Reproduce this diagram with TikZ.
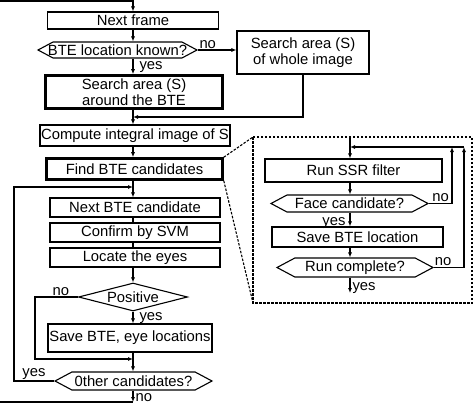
\documentclass[tikz,border=0pt]{standalone}
\usepackage{fontspec}
\setmainfont{Liberation Sans}
\usetikzlibrary{arrows.meta,shapes.geometric,shapes.symbols}

\tikzset{
  box/.style={draw, rectangle, inner sep=0pt, align=center},
  boldbox/.style={box, line width=2.6pt},
  hexa/.style={draw, signal, signal to=west and east, signal pointer angle=56, inner sep=0pt},
  zoomline/.style={dash pattern=on 2.5pt off 1.5pt},
  lbl/.style={inner sep=1pt}
}

\begin{document}
\begin{tikzpicture}[x=1pt, y=-1pt, line width=1.1pt, >={Latex[length=5pt,width=4pt]},
    font=\fontsize{14.8}{15.5}\selectfont]
  \useasboundingbox (0,0) rectangle (474,410);
  % main column
  \node (frame) [box, minimum width=171pt, minimum height=17pt] at (133,20.5) {Next frame};
  \node (known) [hexa, minimum width=159pt, minimum height=16pt] at (117.5,50) {\makebox[0pt]{BTE location known?}};
  \node (whole) [box, minimum width=132pt, minimum height=43pt] at (303,52.5) {Search area (S)\\of whole image};
  \node (around) [boldbox, minimum width=177pt, minimum height=33pt] at (134,92) {Search area (S)\\around the BTE};
  \node (integral) [box, minimum width=190pt, minimum height=21pt] at (135,135.5) {Compute integral image of S};
  \node (find) [boldbox, minimum width=176pt, minimum height=21pt] at (134.5,169) {Find BTE candidates};
  \node (next) [box, minimum width=170pt, minimum height=19pt] at (135,207.5) {Next BTE candidate};
  \node (svm) [box, minimum width=170pt, minimum height=19pt] at (135,232.5) {Confirm by SVM};
  \node (eyes) [box, minimum width=170pt, minimum height=19pt] at (135,257.5) {Locate the eyes};
  \node (positive) [draw, diamond, aspect=3.9, inner sep=0pt, minimum width=109pt, minimum height=28pt] at (133,297) {Positive};
  \node (save) [box, minimum width=164pt, minimum height=28pt] at (130,338) {Save BTE, eye locations};
  \node (other) [hexa, minimum width=157pt, minimum height=18pt] at (133.5,381) {\makebox[0pt]{0ther candidates?}};

  \coordinate (entry) at (0,1);
  \coordinate (merge1) at (133,117);
  \coordinate (merge2) at (133,359);
  \coordinate (merge3) at (133,187);
  \coordinate (noleft) at (35,359);
  \coordinate (yesleft) at (14,187);
  \coordinate (exit) at (133,402);
  \coordinate (back) at (0,402);

  \draw[->] (entry) -| (frame.north);
  \draw[->] (frame.south) -- (frame.south |- known.north);
  \draw[->] (known.east) -- (known.east -| whole.west) node (noknown) [lbl, pos=0.25, above] {no};
  \draw[->] (known.south -| frame.south) -- (frame.south |- around.north) node (yesknown) [lbl, pos=0.55, right=5pt] {yes};
  \draw[->] (whole.south) |- (merge1);
  \draw[->] (frame.south |- around.south) -- (frame.south |- integral.north);
  \draw[->] (frame.south |- integral.south) -- (frame.south |- find.north);
  \draw[->] (frame.south |- find.south) -- (frame.south |- next.north);
  \draw (frame.south |- next.south) -- (frame.south |- svm.north);
  \draw (frame.south |- svm.south) -- (frame.south |- eyes.north);
  \draw[->] (frame.south |- eyes.south) -- (positive.north);
  \draw[->] (positive.west) -| (noleft) node (nopos) [lbl, pos=0.2, above] {no} -- (merge2);
  \draw[->] (positive.south) -- (positive.south |- save.north) node (yespos) [lbl, pos=0.55, right=5pt] {yes};
  \draw[->] (positive.south |- save.south) -- (other.north -| positive.south);
  \draw[->] (other.west) -| (yesleft) node (yesother) [lbl, pos=0.25, above] {yes} -- (merge3);
  \draw[->] (other.south -| positive.south) -- (exit) node (noother) [lbl, pos=0.6, right=1pt] {no};
  \draw (back) -- (exit);

  % zoomed view of the candidate search
  \coordinate (zoomtl) at (253,137);
  \coordinate (zoombr) at (472,303);
  \draw[zoomline] (zoomtl) rectangle (zoombr);
  \draw[zoomline] (find.north east) -- (zoomtl);
  \draw[zoomline] (find.south east) -- (zoomtl |- zoombr);

  \node (ssr) [box, minimum width=177pt, minimum height=23pt] at (353.5,170.5) {Run SSR filter};
  \node (face) [hexa, minimum width=157pt, minimum height=17pt] at (349.5,203.5) {\makebox[0pt]{Face candidate?}};
  \node (savebte) [box, minimum width=171pt, minimum height=20pt] at (357.5,237) {Save BTE location};
  \node (complete) [hexa, minimum width=156pt, minimum height=19pt] at (355,267.5) {\makebox[0pt]{Run complete?}};

  \coordinate (col) at (350,137);
  \coordinate (loopA) at (452,147);
  \coordinate (loopB) at (464,147);
  \coordinate (loopC) at (350,147);
  \coordinate (done) at (350,293);

  \draw[->] (col) -- (col |- ssr.north);
  \draw[->] (col |- ssr.south) -- (col |- face.north);
  \draw[->] (col |- face.south) -- (col |- savebte.north) node (yesface) [lbl, pos=0.75, left=3pt] {yes};
  \draw[->] (col |- savebte.south) -- (col |- complete.north);
  \draw[->] (col |- complete.south) -- (done) node (yesrun) [lbl, pos=0.7, right=1pt] {yes};
  \draw[->] (face.east) -| (loopA) node (noface) [lbl, pos=0.25, above] {no};
  \draw[->] (complete.east) -| (loopB) node (norun) [lbl, pos=0.15, above] {no};
  \draw[->] (loopB) -- (loopC);
\end{tikzpicture}
\end{document}
